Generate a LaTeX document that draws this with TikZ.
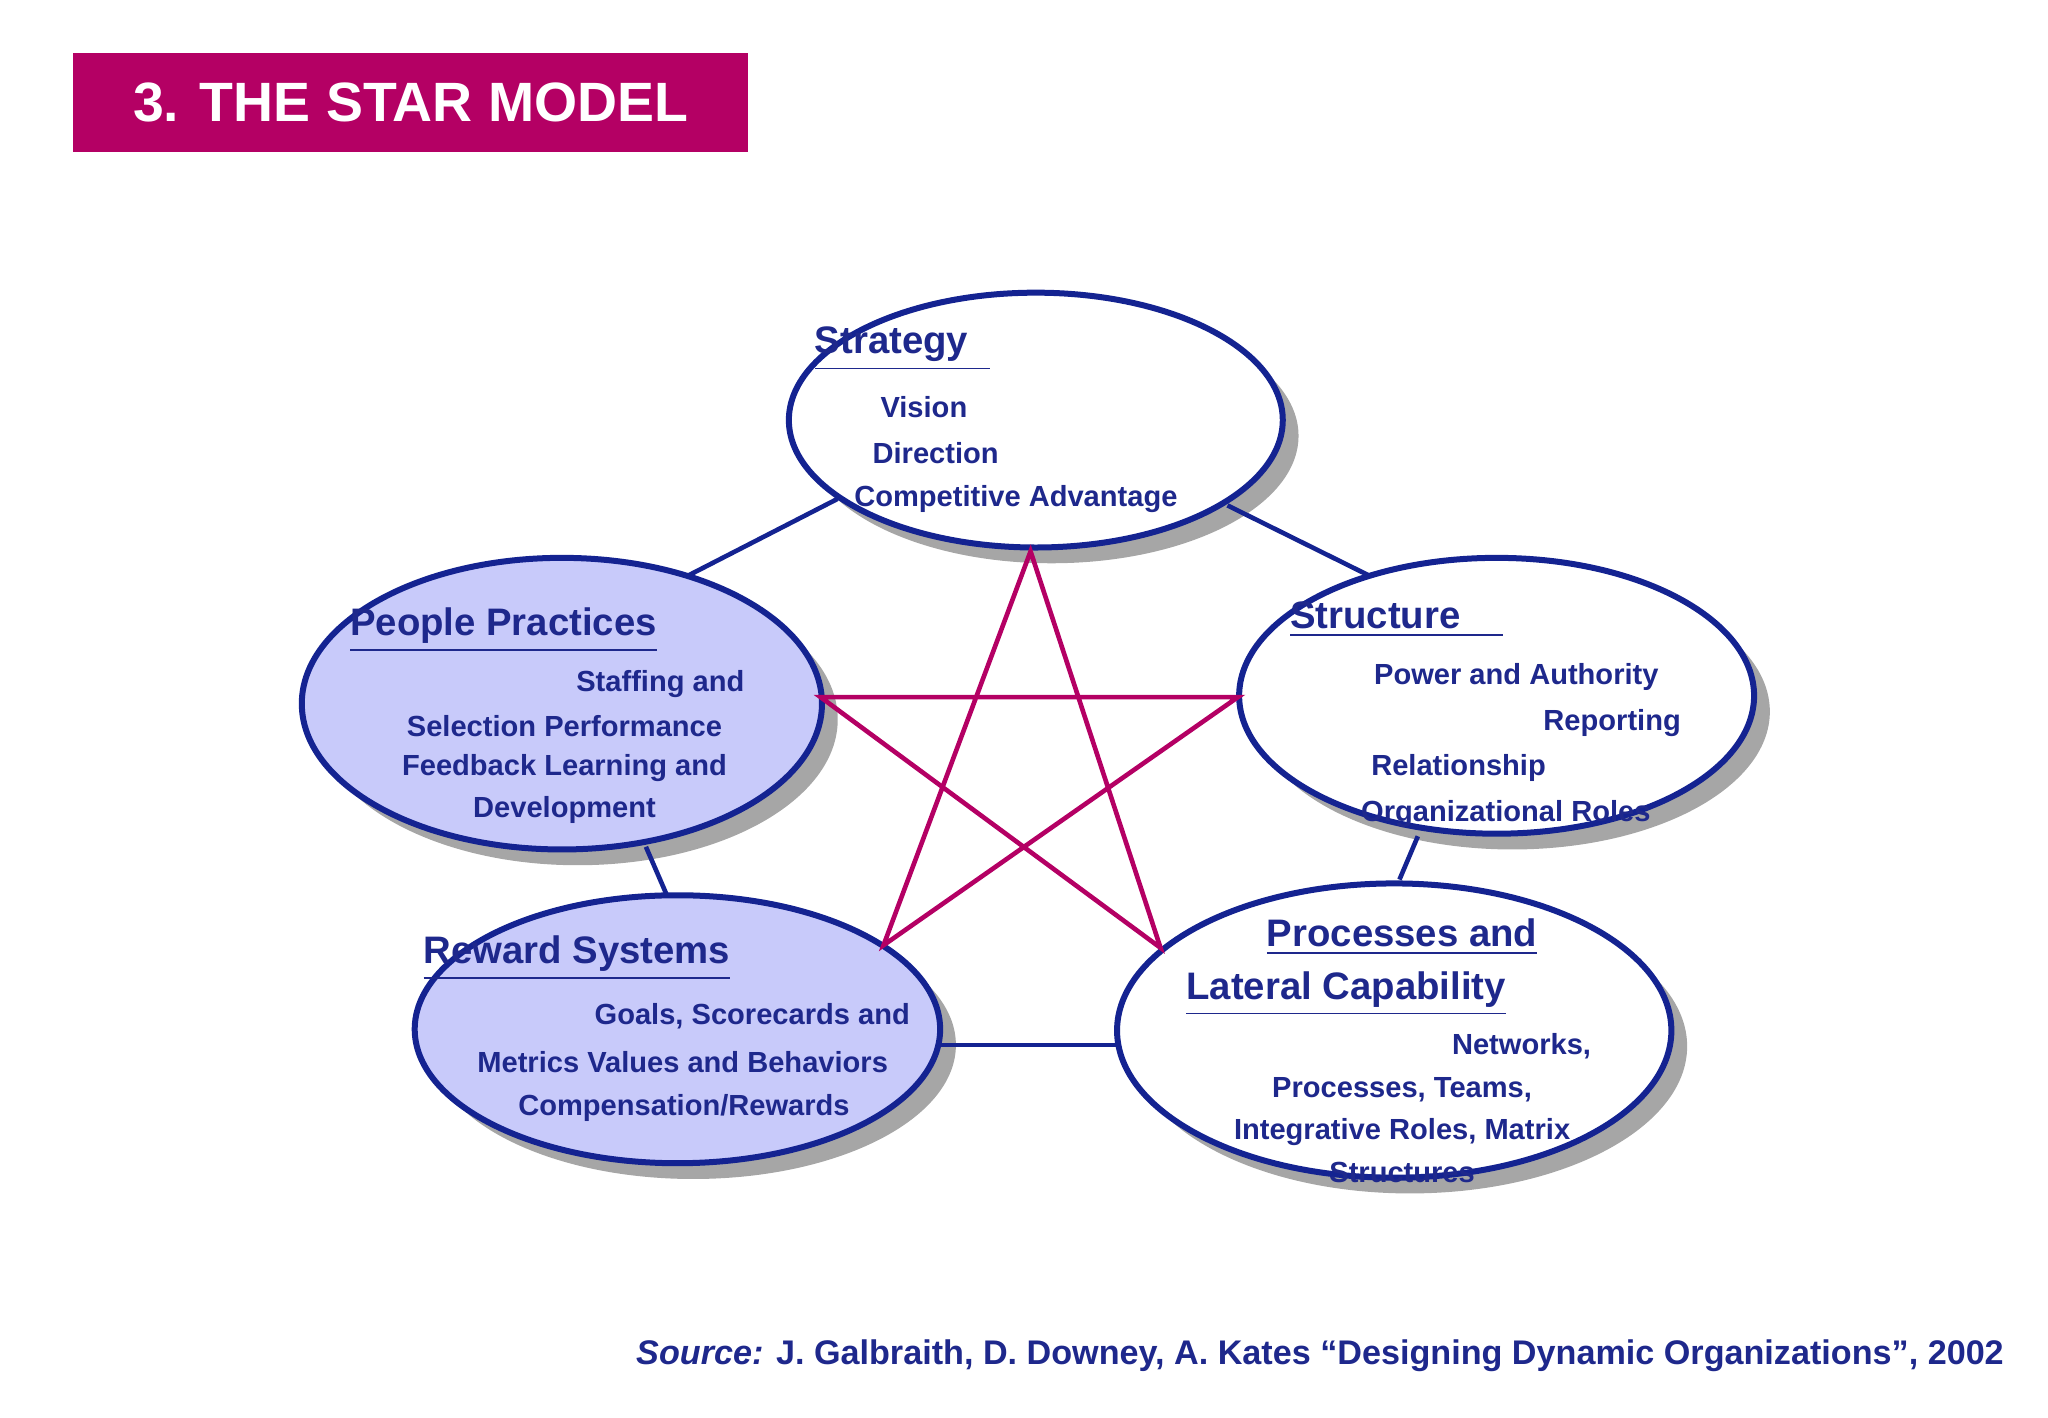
\documentclass[tikz,border=0pt]{standalone}
\usepackage{fontspec}
\setmainfont{Liberation Sans}
\usetikzlibrary{shapes.geometric, shadows, positioning}
\definecolor{starblue}{RGB}{20,35,145}
\definecolor{textblue}{RGB}{30,40,140}
\definecolor{starred}{RGB}{180,0,100}
\definecolor{lavender}{RGB}{200,202,250}
\begin{document}
\begin{tikzpicture}[x=0.01cm, y=-0.01cm,
    oval/.style={ellipse, draw=starblue, line width=1.3pt, fill=white,
      drop shadow={shadow xshift=0.12cm, shadow yshift=-0.12cm, fill=gray!70, opacity=1}},
    head/.style={text=textblue, font=\fontsize{8.3}{10}\selectfont\bfseries, inner sep=0pt, anchor=west},
    item/.style={text=textblue, font=\fontsize{6.3}{8}\selectfont\bfseries, inner sep=0pt},
    link/.style={draw=starblue, line width=1pt},
    star/.style={draw=starred, line width=1pt}]
    \useasboundingbox (0,0) rectangle (1560,1080);

    % title
    \node[fill=starred, text=white, minimum width=5.14cm, minimum height=0.75cm, anchor=north west,
      font=\fontsize{12}{14}\selectfont\bfseries] (title) at (55,40) {3. THE STAR MODEL};

    % ovals
    \node[oval, minimum width=3.76cm, minimum height=1.94cm] (strategy) at (789,320) {};
    \node[oval, fill=lavender, minimum width=3.96cm, minimum height=2.22cm] (people) at (428,536) {};
    \node[oval, minimum width=3.92cm, minimum height=2.10cm] (structure) at (1140,530) {};
    \node[oval, fill=lavender, minimum width=4.00cm, minimum height=2.04cm] (reward) at (516,784) {};
    \node[oval, minimum width=4.22cm, minimum height=2.24cm] (processes) at (1062,785) {};

    % outer links
    \coordinate (s1) at (638,380); \coordinate (p1) at (525,438);
    \coordinate (s2) at (935,385); \coordinate (t1) at (1042,438);
    \coordinate (p2) at (492,645); \coordinate (r1) at (508,682);
    \coordinate (t2) at (1080,637); \coordinate (c1) at (1066,670);
    \coordinate (r2) at (716,796); \coordinate (c2) at (852,796);
    \draw[link] (s1) -- (p1);
    \draw[link] (s2) -- (t1);
    \draw[link] (p2) -- (r1);
    \draw[link] (t2) -- (c1);
    \draw[link] (r2) -- (c2);

    % star
    \coordinate (sa) at (785,420);
    \coordinate (pa) at (625,531);
    \coordinate (ta) at (943,531);
    \coordinate (ra) at (673,720);
    \coordinate (ca) at (884,722);
    \draw[star] (sa) -- (ra) -- (ta) -- (pa) -- (ca) -- cycle;

    % strategy
    \node[head] (strategyhead) at (620,266) {\underline{Strategy\ \ }};
    \node[item, anchor=west] (vision) at (670,310) {Vision};
    \node[item, anchor=west] (direction) at (664,345) {Direction};
    \node[item, anchor=west] (advantage) at (650,380) {Competitive Advantage};

    % people practices
    \node[head] (peoplehead) at (266,480) {\underline{People Practices}};
    \foreach \t/\x/\y [count=\i] in {Staffing and/503/521, Selection Performance/430/553,
        Feedback Learning and/430/585, Development/430/617}
      \node[item] (people\i) at (\x,\y) {\t};

    % structure
    \node[head] (structurehead) at (982,472) {\underline{Structure\ \ \ \ }};
    \foreach \t/\x/\y [count=\i] in {Power and Authority/1155/516, Reporting/1228/551,
        Relationship/1111/585, Organizational Roles/1147/620}
      \node[item] (structure\i) at (\x,\y) {\t};

    % reward systems
    \node[head] (rewardhead) at (322,730) {\underline{Reward Systems}};
    \node[item] (reward1) at (573,774) {Goals, Scorecards and};
    \node[item] (reward2) at (520,809) {Metrics Values and Behaviors};
    \node[item] (reward3) at (521,844) {Compensation/Rewards};

    % processes
    \node[head, anchor=center] (processhead) at (1068,714) {\underline{Processes and}};
    \node[head] (lateralhead) at (903,757) {\underline{Lateral Capability}};
    \node[item] (process1) at (1159,797) {Networks,};
    \node[item] (process2) at (1068,830) {Processes, Teams,};
    \node[item] (process3) at (1068,862) {Integrative Roles, Matrix};
    \node[item] (process4) at (1068,893) {Structures};

    % source
    \node[text=textblue, font=\fontsize{7.4}{9}\selectfont\bfseries, inner sep=0pt, anchor=east]
      (source) at (1527,1033) {\textit{Source:} J. Galbraith, D. Downey, A. Kates “Designing Dynamic Organizations”, 2002};
\end{tikzpicture}
\end{document}
